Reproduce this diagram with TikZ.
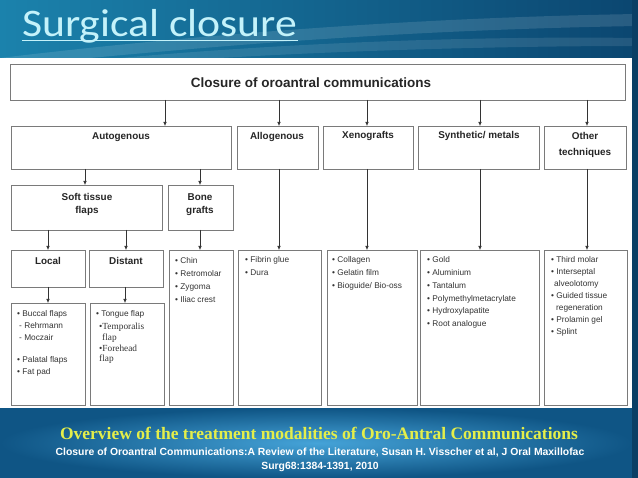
\documentclass[tikz,border=0pt]{standalone}
\usepackage{fontspec}
\setmainfont{Liberation Sans}
\newfontfamily\titlefont{Carlito}
\newfontfamily\seriffont{Liberation Serif}
\usetikzlibrary{arrows.meta}
\definecolor{navy}{HTML}{0B4670}
\definecolor{tealb}{HTML}{1B82AC}
\definecolor{titlecol}{HTML}{C4F2FA}
\definecolor{boxgray}{HTML}{7A7A7A}
\definecolor{ylw}{HTML}{E4EE4A}
\definecolor{botlight}{HTML}{45A3D8}
\definecolor{botdark}{HTML}{0F5585}
\tikzset{
  x=1pt, y=-1pt,
  box/.style={draw=boxgray, line width=0.9pt, fill=white, inner sep=0pt, outer sep=0pt, anchor=north west},
  arr/.style={draw=black!80, line width=0.6pt, -{Latex[length=4pt,width=3.5pt]}},
  head/.style={font=\bfseries\fontsize{9.9}{14.5}\selectfont, align=center, inner sep=0pt, text=black!85},
  lst/.style={font=\fontsize{8.3}{12.8}\selectfont, align=left, anchor=north west, inner sep=0pt, text=black!80},
}
\begin{document}
\begin{tikzpicture}
\useasboundingbox (0,0) rectangle (638,478);
% background
\fill[navy] (0,0) rectangle (638,478);
\shade[left color=tealb, right color=navy] (0,0) rectangle (638,58);
\fill[white, opacity=0.12] (0,58) .. controls (150,40) and (380,18) .. (638,14) -- (638,26) .. controls (400,30) and (220,46) .. (90,58) -- cycle;
\fill[white, opacity=0.10] (120,58) .. controls (300,42) and (480,36) .. (638,38) -- (638,46) .. controls (480,46) and (320,52) .. (220,58) -- cycle;
\shade[inner color=botlight, outer color=botdark] (0,408) rectangle (632,478);
\fill[white] (0,58) rectangle (632,408);
\fill[navy!90!black] (632,0) rectangle (638,478);
% title
\node[font=\titlefont\fontsize{39}{39}\selectfont, text=titlecol, anchor=base west, inner sep=0pt] (title) at (22,37) {\scalebox{1.12}[1]{Surgical closure}};
\draw[titlecol, line width=1.8pt] ([yshift=-3.5pt]title.base west) -- ([yshift=-3.5pt]title.base east);
% boxes
\node[box, minimum width=615pt, minimum height=36pt] (top) at (10,64) {};
\node[box, minimum width=220pt, minimum height=43pt] (auto) at (11,126) {};
\node[box, minimum width=81pt, minimum height=43pt] (allo) at (237,126) {};
\node[box, minimum width=90pt, minimum height=43pt] (xeno) at (323,126) {};
\node[box, minimum width=121pt, minimum height=43pt] (synth) at (418,126) {};
\node[box, minimum width=82pt, minimum height=43pt] (other) at (544,126) {};
\node[box, minimum width=151pt, minimum height=45pt] (soft) at (11,185) {};
\node[box, minimum width=65pt, minimum height=45pt] (bone) at (168,185) {};
\node[box, minimum width=74pt, minimum height=37pt] (local) at (11,250) {};
\node[box, minimum width=74pt, minimum height=37pt] (distant) at (89,250) {};
\node[box, minimum width=74pt, minimum height=102pt] (llist) at (11,303) {};
\node[box, minimum width=74pt, minimum height=102pt] (dlist) at (90,303) {};
\node[box, minimum width=64pt, minimum height=155pt] (blist) at (169,250) {};
\node[box, minimum width=83pt, minimum height=155pt] (alist) at (238,250) {};
\node[box, minimum width=90pt, minimum height=155pt] (xlist) at (327,250) {};
\node[box, minimum width=119pt, minimum height=155pt] (slist) at (420,250) {};
\node[box, minimum width=83pt, minimum height=155pt] (olist) at (544,250) {};
% arrows
\draw[arr] (top.south -| 165,0) -- (auto.north -| 165,0);
\draw[arr] (top.south -| 279,0) -- (allo.north -| 279,0);
\draw[arr] (top.south -| 367,0) -- (xeno.north -| 367,0);
\draw[arr] (top.south -| 480,0) -- (synth.north -| 480,0);
\draw[arr] (top.south -| 587,0) -- (other.north -| 587,0);
\draw[arr] (auto.south -| 85,0) -- (soft.north -| 85,0);
\draw[arr] (auto.south -| 200,0) -- (bone.north -| 200,0);
\draw[arr] (soft.south -| 48,0) -- (local.north -| 48,0);
\draw[arr] (soft.south -| 126,0) -- (distant.north -| 126,0);
\draw[arr] (local.south -| 48,0) -- (llist.north -| 48,0);
\draw[arr] (distant.south -| 125,0) -- (dlist.north -| 125,0);
\draw[arr] (bone.south -| 200,0) -- (blist.north -| 200,0);
\draw[arr] (allo.south -| 279,0) -- (alist.north -| 279,0);
\draw[arr] (xeno.south -| 367,0) -- (xlist.north -| 367,0);
\draw[arr] (synth.south -| 480,0) -- (slist.north -| 480,0);
\draw[arr] (other.south -| 587,0) -- (olist.north -| 587,0);
% heading texts
\node[head, font=\bfseries\fontsize{13.5}{14}\selectfont] (ttop) at (311,83) {Closure of oroantral communications};
\node[head] (tauto) at (121,137) {Autogenous};
\node[head] (tallo) at (277,137) {Allogenous};
\node[head] (txeno) at (368,136) {Xenografts};
\node[head] (tsynth) at (479,136) {Synthetic/ metals};
\node[head, font=\bfseries\fontsize{9.9}{16}\selectfont] (tother) at (585,145) {Other\\techniques};
\node[head, font=\bfseries\fontsize{9.9}{13}\selectfont] (tsoft) at (87,204.5) {Soft tissue\\flaps};
\node[head, font=\bfseries\fontsize{9.9}{13}\selectfont] (tbone) at (200,204.5) {Bone\\grafts};
\node[head] (tlocal) at (48,261) {Local};
\node[head] (tdistant) at (126,261) {Distant};
% lists
\node[lst] (lb) at (175,257.5) {• Chin\\• Retromolar\\• Zygoma\\• Iliac crest};
\node[lst] (la) at (245,256.5) {• Fibrin glue\\• Dura};
\node[lst] (lx) at (332,256.5) {• Collagen\\• Gelatin film\\• Bioguide/ Bio-oss};
\node[lst] (ls) at (427,256.5) {• Gold\\• Aluminium\\• Tantalum\\• Polymethylmetacrylate\\• Hydroxylapatite\\• Root analogue};
\node[lst, font=\fontsize{8.3}{12}\selectfont] (lo) at (551,256.5) {• Third molar\\• Interseptal\\\hspace*{3pt}alveolotomy\\• Guided tissue\\\hspace*{5pt}regeneration\\• Prolamin gel\\• Splint};
\node[lst, font=\fontsize{8.3}{11.7}\selectfont] (ll) at (17,310.5) {• Buccal flaps\\\hspace*{2pt}- Rehrmann\\\hspace*{2pt}- Moczair\\[11pt]• Palatal flaps\\• Fat pad};
\node[lst] (ld1) at (96,310.5) {• Tongue flap};
\node[lst, font=\seriffont\fontsize{9.3}{10.7}\selectfont] (ld2) at (99,323) {•Temporalis\\\hspace*{3pt}flap\\•Forehead\\flap};
% bottom texts
\node[font=\seriffont\bfseries\fontsize{17.5}{18}\selectfont, text=ylw, inner sep=0pt] (ovw) at (319,433) {Overview of the treatment modalities of Oro-Antral Communications};
\node[font=\bfseries\fontsize{10.4}{14}\selectfont, text=white, align=center, inner sep=0pt] (cite) at (320,460) {Closure of Oroantral Communications:A Review of the Literature, Susan H. Visscher et al, J Oral Maxillofac\\Surg68:1384-1391, 2010};
\end{tikzpicture}
\end{document}
